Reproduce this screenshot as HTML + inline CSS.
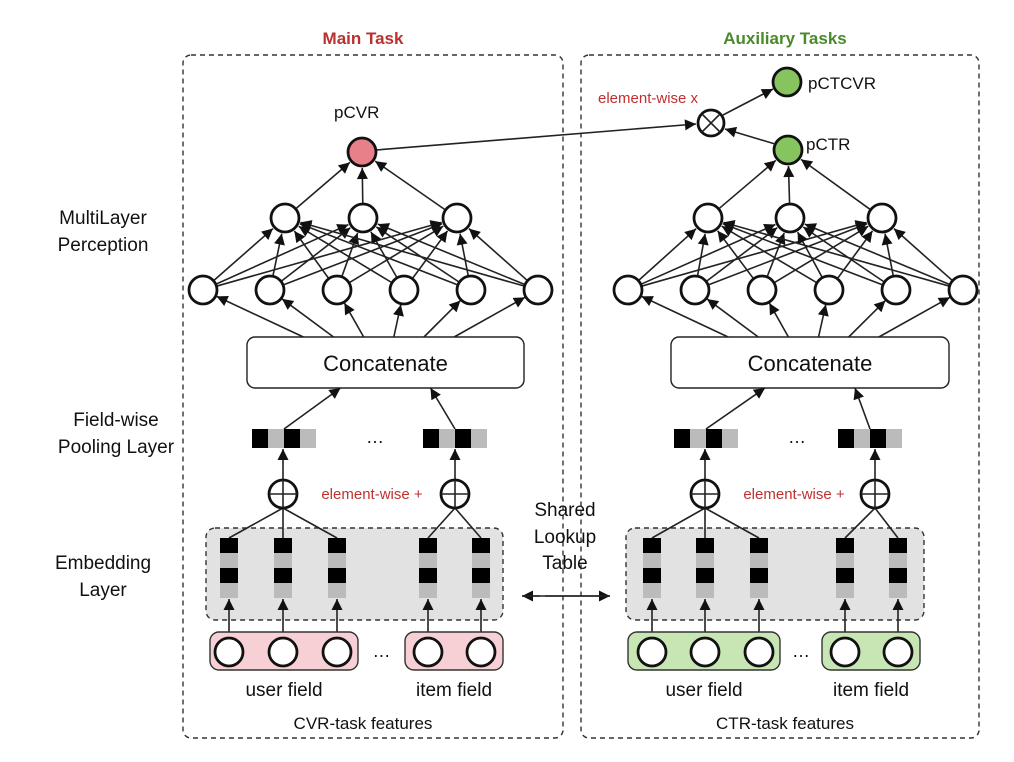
<!DOCTYPE html>
<html><head><meta charset="utf-8"><style>
html,body{margin:0;padding:0;background:#fff;}
svg{display:block;font-family:"Liberation Sans",sans-serif;}
</style></head><body>
<svg id="s" width="1014" height="762" viewBox="0 0 1014 762" xmlns="http://www.w3.org/2000/svg">
<defs>
<marker id="a" viewBox="0 0 10 10" refX="10" refY="5" markerWidth="12" markerHeight="11" markerUnits="userSpaceOnUse" orient="auto"><path d="M0,0L10,5L0,10z" fill="#111"/></marker>
</defs>
<rect x="183" y="55" width="380" height="683" rx="8" fill="none" stroke="#333" stroke-width="1.4" stroke-dasharray="5,4"/>
<rect x="581" y="55" width="398" height="683" rx="8" fill="none" stroke="#333" stroke-width="1.4" stroke-dasharray="5,4"/>
<text x="363" y="44" text-anchor="middle" font-size="17" font-weight="bold" fill="#b83232">Main Task</text>
<text x="785" y="44" text-anchor="middle" font-size="17" font-weight="bold" fill="#4a8a2a">Auxiliary Tasks</text>
<g font-size="19" fill="#111" text-anchor="middle">
<text x="103" y="224">MultiLayer</text><text x="103" y="251">Perception</text>
<text x="116" y="426">Field-wise</text><text x="116" y="453">Pooling Layer</text>
<text x="103" y="569">Embedding</text><text x="103" y="596">Layer</text>
<text x="565" y="516">Shared</text><text x="565" y="543">Lookup</text><text x="565" y="569">Table</text>
</g>
<g id="g"></g>
</svg>
<script>
var g=document.getElementById('g'),h='';
function L(x1,y1,x2,y2,ar){h+='<line x1="'+x1+'" y1="'+y1+'" x2="'+x2+'" y2="'+y2+'" stroke="#222" stroke-width="1.6"'+(ar?' marker-end="url(#a)"':'')+'/>';}
function C(x,y,r,f){h+='<circle cx="'+x+'" cy="'+y+'" r="'+r+'" fill="'+(f||'#fff')+'" stroke="#111" stroke-width="2.8"/>';}
function T(x,y,t,s,c,an){h+='<text x="'+x+'" y="'+y+'" font-size="'+s+'" fill="'+(c||'#111')+'" text-anchor="'+(an||'middle')+'">'+t+'</text>';}
function toward(x1,y1,x2,y2,r){var dx=x2-x1,dy=y2-y1,d=Math.sqrt(dx*dx+dy*dy);return [x2-dx/d*r,y2-dy/d*r];}
function A(x1,y1,x2,y2,r){var p=toward(x1,y1,x2,y2,r);var q=toward(x2,y2,x1,y1,r0);L(q[0],q[1],p[0],p[1],true);}
var r0=0;
function side(o){
 var top=o.top,hid=o.hid,bot=o.bot;
 for(var i=0;i<bot.length;i++)for(var j=0;j<hid.length;j++){r0=14;A(bot[i],290,hid[j],218,16);}
 for(var j=0;j<hid.length;j++){r0=14;A(hid[j],218,top[0],top[1],16);}
 var cx=o.cx,cw=o.cw;
 for(var i=0;i<bot.length;i++){r0=0;A(cx+cw/2+(bot[i]-(cx+cw/2))*0.45,337,bot[i],290,15);}
 h+='<rect x="'+cx+'" y="337" width="'+cw+'" height="51" rx="8" fill="#fff" stroke="#222" stroke-width="1.4"/>';
 T(cx+cw/2,371,'Concatenate',22);
 for(var k=0;k<2;k++){var bx=o.bars[k];r0=0;L(bx+32,429,cx+cw/2+(k?45:-45),388,true);
  for(var m=0;m<4;m++)h+='<rect x="'+(bx+m*16)+'" y="429" width="16" height="19" fill="'+(m%2?'#bbb':'#000')+'"/>';}
 T(o.bars[0]+123,443,'…',18);
 h+='<rect x="'+o.ex+'" y="528" width="'+o.ew+'" height="92" rx="9" fill="#e2e2e2" stroke="#333" stroke-width="1.4" stroke-dasharray="5,4"/>';
 for(var k=0;k<2;k++){var px=o.op[k];L(px,480,px,449,true);
  var cols=k?o.cols.slice(3):o.cols.slice(0,3);
  for(var c=0;c<cols.length;c++)L(px,508,cols[c],538,false);
  C(px,494,14);L(px-14,494,px+14,494);L(px,480,px,508);}
 T(o.op[0]+89,499,'element-wise +',15,'#c03030');
 for(var c=0;c<5;c++){var x=o.cols[c];
  for(var m=0;m<4;m++)h+='<rect x="'+(x-9)+'" y="'+(538+m*15)+'" width="18" height="15" fill="'+(m%2?'#bbb':'#000')+'"/>';
  L(x,638,x,599,true);}
 h+='<rect x="'+o.u[0]+'" y="632" width="'+(o.u[1]-o.u[0])+'" height="38" rx="9" fill="'+o.fc+'" stroke="#333" stroke-width="1.4"/>';
 h+='<rect x="'+o.it[0]+'" y="632" width="'+(o.it[1]-o.it[0])+'" height="38" rx="9" fill="'+o.fc+'" stroke="#333" stroke-width="1.4"/>';
 for(var c=0;c<5;c++)C(o.cols[c],652,14);
 T((o.u[1]+o.it[0])/2,657,'…',18);
 T((o.u[0]+o.u[1])/2,696,'user field',19);
 T((o.it[0]+o.it[1])/2,696,'item field',19);
 T(o.mid,729,o.lab,17);
 for(var i=0;i<bot.length;i++)C(bot[i],290,14);
 for(var j=0;j<hid.length;j++)C(hid[j],218,14);
 C(top[0],top[1],14,o.tc);
}
r0=0;L(376,150,696,124,true);
side({top:[362,152],tc:'#e8808a',hid:[285,363,457],bot:[203,270,337,404,471,538],cx:247,cw:277,bars:[252,423],op:[283,455],ex:206,ew:297,cols:[229,283,337,428,481],u:[210,358],it:[405,503],fc:'#f6d0d4',mid:363,lab:'CVR-task features'});
side({top:[788,150],tc:'#85c45e',hid:[708,790,882],bot:[628,695,762,829,896,963],cx:671,cw:278,bars:[674,838],op:[705,875],ex:626,ew:298,cols:[652,705,759,845,898],u:[628,780],it:[822,920],fc:'#c8e6b4',mid:785,lab:'CTR-task features'});
L(775,144,725,129,true);L(723,115,773,89,true);
C(711,123,13);L(702,114,720,132);L(720,114,702,132);
C(787,82,14,'#85c45e');
T(334,118,'pCVR',17,'#111','start');T(806,150,'pCTR',17,'#111','start');T(808,89,'pCTCVR',17,'#111','start');
T(598,103,'element-wise x',15,'#c03030','start');
L(540,596,522,596,true);L(545,596,610,596,true);L(522,596,610,596);
g.innerHTML=h;
</script>
</body></html>
